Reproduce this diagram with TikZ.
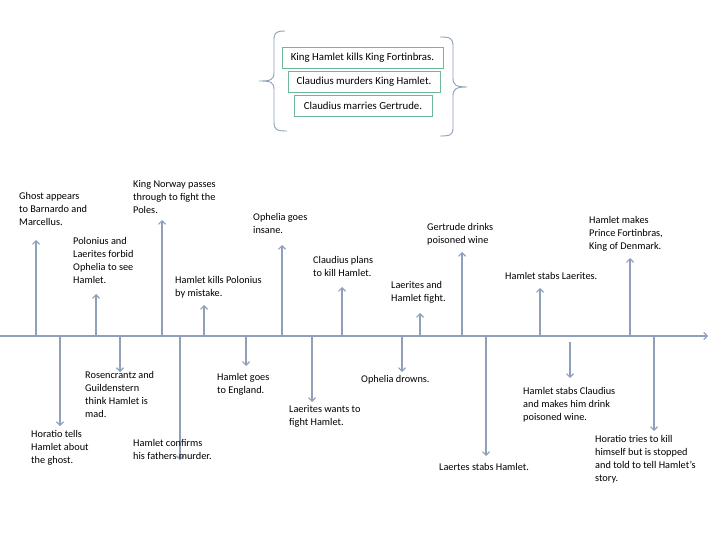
\documentclass[tikz,border=0pt]{standalone}
\usepackage{fontspec}
\setmainfont{Carlito}
\usetikzlibrary{arrows.meta}
\definecolor{ln}{HTML}{8FA0BA}
\definecolor{bx}{HTML}{6DB896}
\tikzset{
 lab/.style={anchor=north west,align=left,inner sep=0pt,font=\fontsize{10.3}{13}\selectfont},
 ev/.style={draw=ln,line width=1.1pt,-{Straight Barb[length=3.5pt,width=7pt]}},
 topbox/.style={draw=bx,line width=0.8pt,fill=white,minimum height=21pt,inner sep=0pt,font=\fontsize{10.8}{12}\selectfont},
 brace/.style={draw=ln,line width=0.9pt}
}
\begin{document}
\begin{tikzpicture}[x=1pt,y=-1pt]
\useasboundingbox (0,0) rectangle (720,540);
% top boxes
\node[topbox,minimum width=161pt] (b1) at (362.5,57.5) {King Hamlet kills King Fortinbras.};
\node[topbox,minimum width=152pt] (b2) at (364,82) {Claudius murders King Hamlet.};
\node[topbox,minimum width=138pt] (b3) at (363,105.5) {Claudius marries Gertrude.};
% braces
\draw[brace] (285,31) .. controls (274,31) and (274,34) .. (274,42) -- (274,72) .. controls (274,80) and (271,81) .. (259,81)
  (259,81) .. controls (271,81) and (274,82) .. (274,90) -- (274,122) .. controls (274,130) and (277,131) .. (287,131);
\draw[brace] (440,37) .. controls (450,37) and (453,38) .. (453,46) -- (453,78) .. controls (453,85) and (456,87) .. (467,87)
  (467,87) .. controls (456,87) and (453,89) .. (453,96) -- (453,128) .. controls (453,135) and (450,136) .. (440,136);
% timeline
\coordinate (L0) at (0,336);
\coordinate (L1) at (708,336);
\draw[ev] (L0) -- (L1);
% up arrows
\foreach \x/\t [count=\i] in {36/240,96/294,162/220,204/305,282/245,342/287,420/313,462/252,540/288,630/258}{
  \coordinate (us\i) at (\x,336);
  \coordinate (ue\i) at (\x,\t);
  \draw[ev] (us\i) -- (ue\i);
}
% down arrows
\foreach \x/\s/\t [count=\i] in {60/336/426,120/336/372,180/336/460,246/336/366,312/336/402,402/336/372,486/336/456,570/342/378,654/336/431}{
  \coordinate (ds\i) at (\x,\s);
  \coordinate (de\i) at (\x,\t);
  \draw[ev] (ds\i) -- (de\i);
}
% labels above
\node[lab] (t1) at (19,192) {Ghost appears\\to Barnardo and\\Marcellus.};
\node[lab] (t2) at (133,180) {King Norway passes\\through to fight the\\Poles.};
\node[lab] (t3) at (253,213) {Ophelia goes\\insane.};
\node[lab] (t4) at (73,237) {Polonius and\\Laerites forbid\\Ophelia to see\\Hamlet.};
\node[lab] (t5) at (175,276) {Hamlet kills Polonius\\by mistake.};
\node[lab] (t6) at (313,256) {Claudius plans\\to kill Hamlet.};
\node[lab] (t7) at (391,281) {Laerites and\\Hamlet fight.};
\node[lab] (t8) at (427,223) {Gertrude drinks\\poisoned wine};
\node[lab] (t9) at (505,272) {Hamlet stabs Laerites.};
\node[lab] (t10) at (589,216) {Hamlet makes\\Prince Fortinbras,\\King of Denmark.};
% labels below
\node[lab] (s1) at (85,371) {Rosencrantz and\\Guildenstern\\think Hamlet is\\mad.};
\node[lab] (s2) at (217,373) {Hamlet goes\\to England.};
\node[lab] (s3) at (361,375) {Ophelia drowns.};
\node[lab] (s4) at (289,405) {Laerites wants to\\fight Hamlet.};
\node[lab] (s5) at (31,430) {Horatio tells\\Hamlet about\\the ghost.};
\node[lab] (s6) at (133,439) {Hamlet confirms\\his fathers murder.};
\node[lab] (s7) at (523,387) {Hamlet stabs Claudius\\and makes him drink\\poisoned wine.};
\node[lab] (s8) at (595,435) {Horatio tries to kill\\himself but is stopped\\and told to tell Hamlet’s\\story.};
\node[lab] (s9) at (439,463) {Laertes stabs Hamlet.};
\end{tikzpicture}
\end{document}
